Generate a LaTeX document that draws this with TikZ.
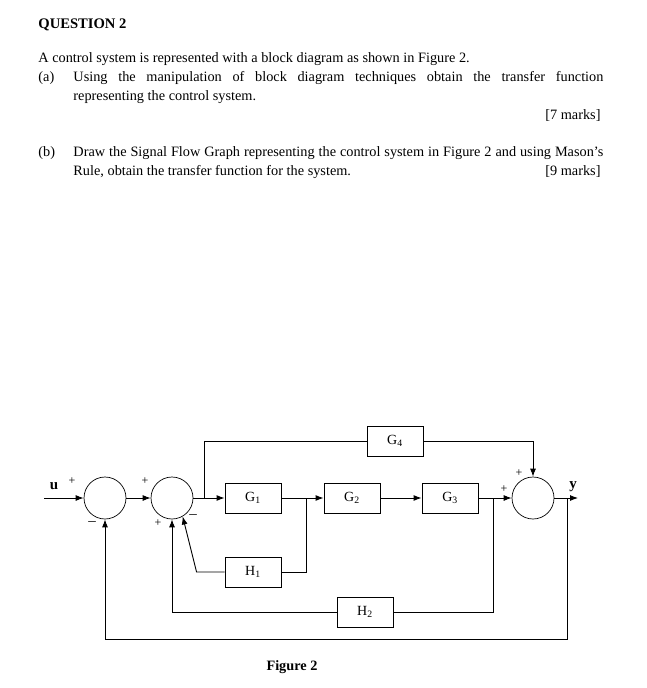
\documentclass[tikz,border=0pt]{standalone}
\usepackage{fontspec}
\setmainfont{Liberation Serif}
\usepackage{tikz}
\usetikzlibrary{arrows.meta}

\begin{document}
\begin{tikzpicture}[>={Latex[length=8pt,width=6pt]}, x=1pt, y=-1pt, line width=0.9pt,
    block/.style={draw, minimum width=56pt, minimum height=30pt, inner sep=0pt, font=\fontsize{14}{16}\selectfont},
    summer/.style={draw, circle, minimum size=42pt, inner sep=0pt, line width=0.7pt},
    sgn/.style={inner sep=0pt, font=\fontsize{12}{14}\selectfont},
    txt/.style={anchor=base west, inner sep=0pt, font=\fontsize{14.3}{19}\selectfont}]
    \useasboundingbox (0,0) rectangle (646,688);

    % Question text
    \node[txt, font=\fontsize{14.6}{19}\selectfont\bfseries] (qhead) at (38,28) {QUESTION 2};
    \node[txt] (intro) at (38,62) {A control system is represented with a block diagram as shown in Figure 2.};
    \node[txt] (pa) at (38,81) {(a)};
    \node[txt] (pa1) at (73,81) {\makebox[530pt][s]{Using the manipulation of block diagram techniques obtain the transfer function}};
    \node[txt] (pa2) at (73,100) {representing the control system.};
    \node[txt, anchor=base east] (pamk) at (601,119) {[7 marks]};
    \node[txt] (pb) at (38,156) {(b)};
    \node[txt] (pb1) at (73,156) {\makebox[530pt][s]{Draw the Signal Flow Graph representing the control system in Figure 2 and using Mason's}};
    \node[txt] (pb2) at (73,175) {Rule, obtain the transfer function for the system.};
    \node[txt, anchor=base east] (pbmk) at (601,175) {[9 marks]};

    % Summing points and blocks
    \node[summer] (s1) at (105,498) {};
    \node[summer] (s2) at (172,498) {};
    \node[summer] (s3) at (533,498) {};
    \node[block] (g1) at (253,498) {G\textsubscript{1}};
    \node[block] (g2) at (352,498) {G\textsubscript{2}};
    \node[block] (g3) at (450,498) {G\textsubscript{3}};
    \node[block] (g4) at (395,441) {G\textsubscript{4}};
    \node[block] (h1) at (253,572) {H\textsubscript{1}};
    \node[block] (h2) at (365,612) {H\textsubscript{2}};

    \coordinate (uin) at (44,498);
    \coordinate (yout) at (578,498);
    \coordinate (b1) at (204,498);
    \coordinate (b2) at (306,498);
    \coordinate (b3) at (493,498);
    \coordinate (b4) at (567,498);
    \coordinate (low) at (0,639);

    % Forward path
    \draw[->] (uin) -- (s1);
    \draw[->] (s1) -- (s2);
    \draw[->] (s2) -- (g1);
    \draw[->] (g1) -- (g2);
    \draw[->] (g2) -- (g3);
    \draw[->] (g3) -- (s3);
    \draw[->] (s3) -- (yout);

    % Feedforward through G4
    \draw (b1) |- (g4);
    \draw[->] (g4) -| (s3);

    % Inner loop H1
    \draw (b2) |- (h1);
    \draw[->] (h1.west) -- ++(-28,0) coordinate (h1l) -- (s2.-60);

    % Loop through H2
    \draw (b3) |- (h2);
    \draw[->] (h2) -| (s2);

    % Outer unity feedback
    \draw[->] (b4) |- (low -| s1.south) -- (s1);

    % Signs
    \foreach \px/\py [count=\i] in {72/481, 145/481, 158/523, 519/473, 504/489} {
        \node[sgn] (plus\i) at (\px,\py) {+};
    }
    \node[sgn, font=\fontsize{15}{16}\selectfont] (minus1) at (92,524) {--};
    \node[sgn, font=\fontsize{15}{16}\selectfont] (minus2) at (193,517) {--};

    \node[font=\fontsize{15}{16}\selectfont\bfseries] (ulab) at (54,486) {u};
    \node[font=\fontsize{15}{16}\selectfont\bfseries] (ylab) at (573,487) {y};

    \node[txt, anchor=base, font=\fontsize{14.3}{19}\selectfont\bfseries] (cap) at (292,670) {Figure 2};
\end{tikzpicture}
\end{document}
